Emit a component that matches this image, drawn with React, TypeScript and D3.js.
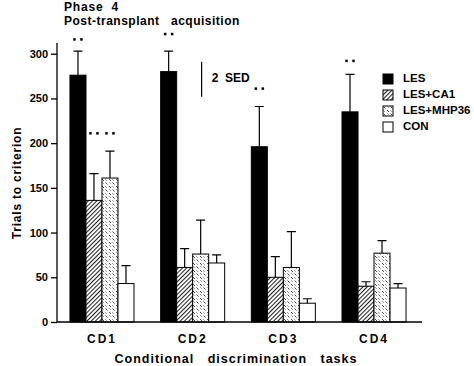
import React, { useRef, useEffect } from 'react';
import * as d3 from 'd3';

const tasks = ['CD1', 'CD2', 'CD3', 'CD4'];
const groups = ['LES', 'LES+CA1', 'LES+MHP36', 'CON'];

const lesMean = [276, 280, 196, 235];
const lesSed = [27, 23, 45, 42];
const ca1Mean = [136, 61, 50, 40];
const ca1Sed = [30, 21, 23, 5];
const mhpMean = [161, 76, 61, 77];
const mhpSed = [30, 38, 40, 14];
const conMean = [43, 66, 21, 38];
const conSed = [20, 9, 5, 5];

const yTicks = [0, 50, 100, 150, 200, 250, 300];

// significance marks (**): task, group, height (in trials)
const starTask = ['CD1', 'CD1', 'CD1', 'CD2', 'CD3', 'CD4'];
const starGroup = ['LES', 'LES+CA1', 'LES+MHP36', 'LES', 'LES', 'LES'];
const starLevel = [316, 211, 211, 322, 261, 292];

const sedBar = [252, 291];

const FONT = '"Liberation Sans", Arial, Helvetica, sans-serif';

function App() {
  const svgRef = useRef<SVGSVGElement>(null);
  const width = 474;
  const height = 366;

  useEffect(() => {
    const svg = d3.select(svgRef.current);
    svg.selectAll('*').remove();

    const means = [lesMean, ca1Mean, mhpMean, conMean];
    const seds = [lesSed, ca1Sed, mhpSed, conSed];
    const rows = tasks.flatMap((t, ti) =>
      groups.map((g, gi) => ({ task: t, group: g, mean: means[gi][ti], sed: seds[gi][ti] }))
    );

    const defs = svg.append('defs');
    const hatch = defs
      .append('pattern')
      .attr('id', 'hatch')
      .attr('patternUnits', 'userSpaceOnUse')
      .attr('width', 3)
      .attr('height', 3)
      .attr('patternTransform', 'rotate(45)');
    hatch.append('rect').attr('width', 3).attr('height', 3).attr('fill', '#fff');
    hatch.append('line').attr('x1', 0.5).attr('x2', 0.5).attr('y1', 0).attr('y2', 3)
      .attr('stroke', '#222').attr('stroke-width', 1.1);

    const dots = defs
      .append('pattern')
      .attr('id', 'dashes')
      .attr('patternUnits', 'userSpaceOnUse')
      .attr('width', 7)
      .attr('height', 7);
    dots.append('rect').attr('width', 7).attr('height', 7).attr('fill', '#fff');
    dots.append('path').attr('d', 'M0.5,0.5 L2.5,2.5 M4,4 L6,6 M4.5,0.5 L5.5,1.5 M0.5,4.5 L1.5,5.5')
      .attr('stroke', '#333').attr('stroke-width', 0.9);

    const fills: Record<string, string> = {
      'LES': '#000',
      'LES+CA1': 'url(#hatch)',
      'LES+MHP36': 'url(#dashes)',
      'CON': '#fff',
    };

    const x0 = 57, x1 = 422;
    const y = d3.scaleLinear().domain([0, 312]).range([322, 43]);
    const x = d3.scaleBand().domain(tasks).range([x0, 419]).paddingInner(0.294).paddingOuter(0.143);
    const xs = d3.scaleBand().domain(groups).range([0, x.bandwidth()]);

    const g = svg.append('g').attr('font-family', FONT).attr('font-weight', 'bold');

    // bars
    g.selectAll('.bar')
      .data(rows)
      .join('rect')
      .attr('class', 'bar')
      .attr('x', (d) => x(d.task)! + xs(d.group)!)
      .attr('y', (d) => y(d.mean))
      .attr('width', xs.bandwidth())
      .attr('height', (d) => y(0) - y(d.mean))
      .attr('fill', (d) => fills[d.group])
      .attr('stroke', '#000')
      .attr('stroke-width', 1);

    // error bars
    const cx = (d: { task: string; group: string }) => x(d.task)! + xs(d.group)! + xs.bandwidth() / 2;
    g.selectAll('.err')
      .data(rows)
      .join('path')
      .attr('class', 'err')
      .attr('d', (d) => {
        const c = cx(d);
        const top = y(d.mean + d.sed);
        return `M${c},${y(d.mean)}V${top}M${c - 4.5},${top}H${c + 4.5}`;
      })
      .attr('stroke', '#000')
      .attr('stroke-width', 1.2)
      .attr('fill', 'none');

    // significance marks: pairs of small dots
    const stars = g.selectAll('.star')
      .data(starLevel)
      .join('g')
      .attr('class', 'star')
      .attr('transform', (d, i) => `translate(${cx({ task: starTask[i], group: starGroup[i] })},${y(d)})`);
    stars.selectAll('rect')
      .data([-3.5, 3.5])
      .join('rect')
      .attr('x', (o) => o - 1.25)
      .attr('y', -1.25)
      .attr('width', 2.5)
      .attr('height', 2.5)
      .attr('fill', '#000');

    // y axis
    const yAxis = d3.axisLeft(y).tickValues(yTicks).tickSize(6).tickPadding(3);
    const ya = g.append('g').attr('transform', `translate(${x0},0)`).call(yAxis);
    ya.select('.domain').attr('stroke-width', 1.3).attr('d', `M0,${y.range()[1]}V${y(0)}`);
    ya.selectAll('.tick line').attr('stroke-width', 1.3);
    ya.selectAll('.tick text')
      .attr('font-family', FONT)
      .attr('font-weight', 'bold')
      .attr('font-size', 11)
      .attr('fill', '#000');

    // x axis line
    g.append('line')
      .attr('x1', x0).attr('x2', x1)
      .attr('y1', y(0)).attr('y2', y(0))
      .attr('stroke', '#000').attr('stroke-width', 1.3);

    g.selectAll('.cat')
      .data(tasks)
      .join('text')
      .attr('class', 'cat')
      .attr('x', (d) => x(d)! + x.bandwidth() / 2)
      .attr('y', 343)
      .attr('text-anchor', 'middle')
      .attr('font-size', 12)
      .attr('letter-spacing', 2)
      .text((d) => d);

    g.append('text')
      .attr('x', 236)
      .attr('y', 363)
      .attr('text-anchor', 'middle')
      .attr('font-size', 12.5)
      .attr('letter-spacing', 1)
      .style('white-space', 'pre')
      .text('Conditional   discrimination   tasks');

    g.append('text')
      .attr('transform', `translate(21,183) rotate(-90)`)
      .attr('text-anchor', 'middle')
      .attr('font-size', 12)
      .attr('letter-spacing', 0.8)
      .text('Trials to criterion');

    // title
    g.append('text').attr('x', 64).attr('y', 11).attr('font-size', 12).attr('letter-spacing', 0.8)
      .style('white-space', 'pre').text('Phase  4');
    g.append('text').attr('x', 64).attr('y', 25).attr('font-size', 12).attr('letter-spacing', 0.5)
      .style('white-space', 'pre').text('Post-transplant   acquisition');

    // 2 SED scale bar
    const sx = x('CD2')! + 41;
    g.append('line')
      .attr('x1', sx).attr('x2', sx)
      .attr('y1', y(sedBar[0])).attr('y2', y(sedBar[1]))
      .attr('stroke', '#000').attr('stroke-width', 1.2);
    g.append('text').attr('x', sx + 10).attr('y', y((sedBar[0] + sedBar[1]) / 2))
      .attr('dominant-baseline', 'middle').attr('font-size', 12)
      .style('white-space', 'pre').text('2  SED');

    // legend
    const legend = g.selectAll('.leg')
      .data(groups)
      .join('g')
      .attr('class', 'leg')
      .attr('transform', (d, i) => `translate(383,${74 + i * 16})`);
    legend.append('rect')
      .attr('width', 10).attr('height', 10)
      .attr('fill', (d) => fills[d])
      .attr('stroke', '#000').attr('stroke-width', 1);
    legend.append('text')
      .attr('x', 20).attr('y', 5)
      .attr('dominant-baseline', 'middle')
      .attr('font-size', 11.5)
      .text((d) => d);
  }, []);

  return (
    <svg ref={svgRef} width={width} height={height} style={{ display: 'block', position: 'absolute', left: 0, top: 0, background: '#fff' }} />
  );
}

export default App;
